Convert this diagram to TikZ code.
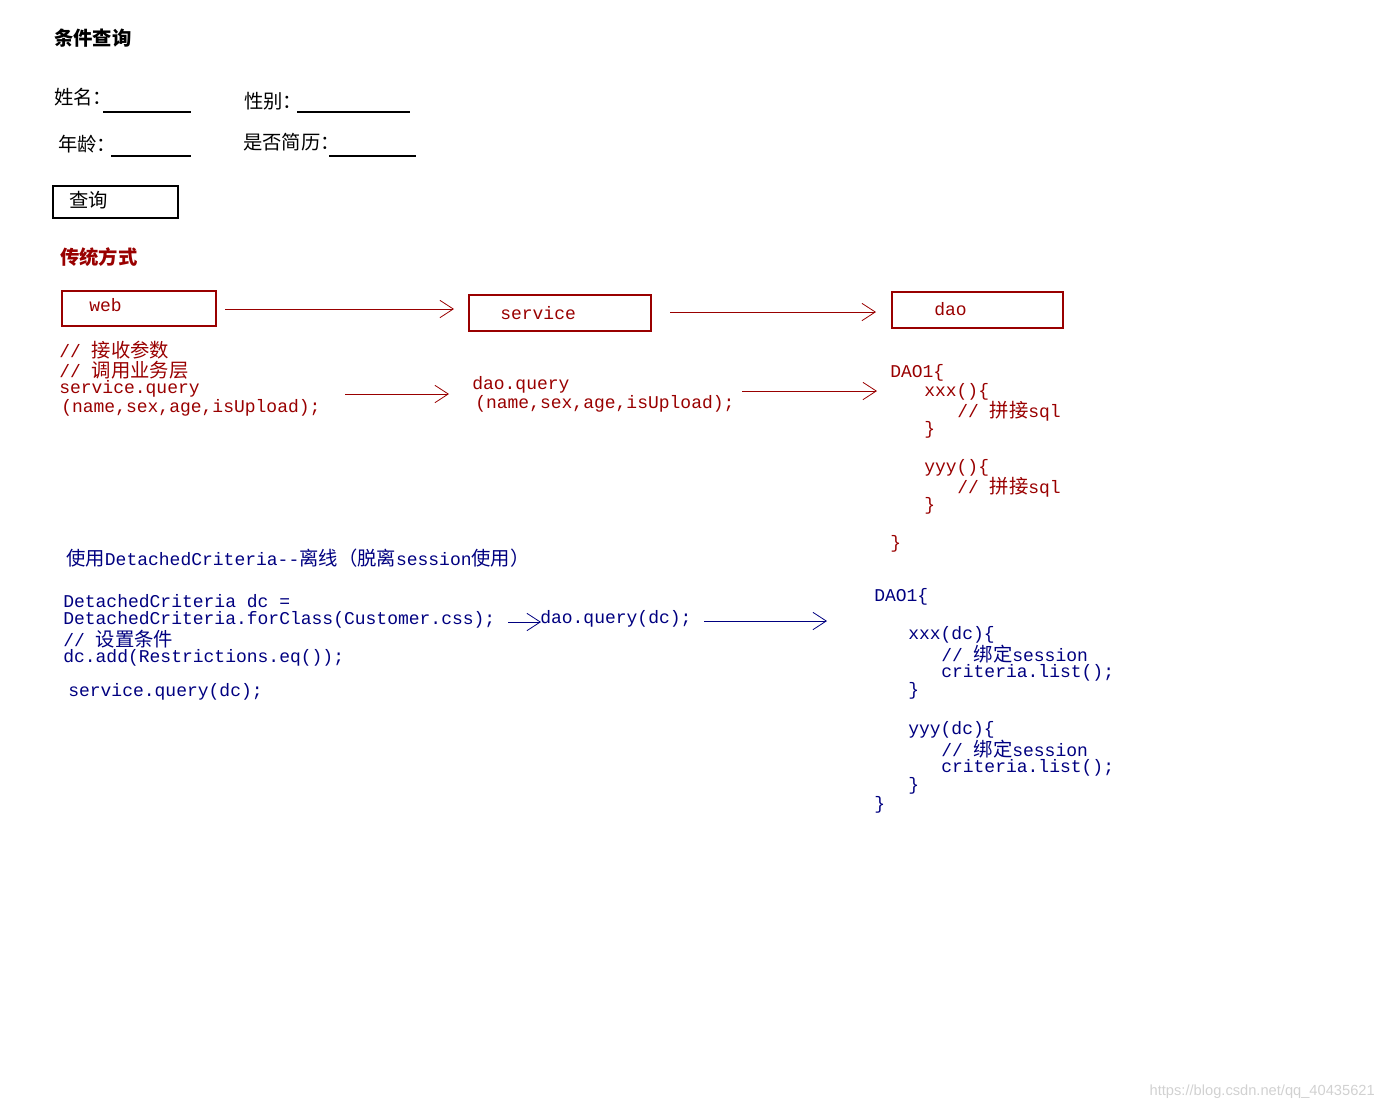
\documentclass[tikz,border=0pt]{standalone}
\usepackage{fontspec}
\setmainfont{Liberation Mono}
\newfontfamily\cjk{Noto Sans CJK SC}
\usetikzlibrary{arrows.meta}
\newcommand\cj[1]{{\cjk\fontsize{14.5}{16}\selectfont #1}}
\definecolor{dred}{HTML}{990000}
\definecolor{dblue}{HTML}{000080}
\tikzset{
 t/.style={anchor=west,inner sep=0pt,font=\fontsize{13.5}{16}\selectfont},
 box/.style={draw,line width=0.8pt,minimum height=0pt},
 arr/.style={-{Straight Barb[length=10pt,width=13pt]},line width=0.6pt},
 uline/.style={line width=0.8pt}
}
\begin{document}
\begin{tikzpicture}[x=0.75pt,y=-0.75pt]
\useasboundingbox (0,0) rectangle (1382,1111);
% form
\node[t] (title) at (54,38) {\cj{\bfseries 条件查询}};
\node[t] (l1) at (54,97) {\cj{姓名：}};
\coordinate (u1a) at (103,112); \coordinate (u1b) at (191,112);
\draw[uline] (u1a) -- (u1b);
\node[t] (l2) at (244,101) {\cj{性别：}};
\coordinate (u2a) at (297,112); \coordinate (u2b) at (410,112);
\draw[uline] (u2a) -- (u2b);
\node[t] (l3) at (58,144) {\cj{年龄：}};
\coordinate (u3a) at (111,156); \coordinate (u3b) at (191,156);
\draw[uline] (u3a) -- (u3b);
\node[t] (l4) at (243,142) {\cj{是否简历：}};
\coordinate (u4a) at (329,156); \coordinate (u4b) at (416,156);
\draw[uline] (u4a) -- (u4b);
\coordinate (qa) at (53,186); \coordinate (qb) at (178,218);
\draw[uline] (qa) rectangle (qb);
\node[t] (q) at (69,200) {\cj{查询}};
% traditional
\begin{scope}[dred,every node/.append style={text=dred}]
\node[t] (trad) at (60,257) {\cj{\bfseries 传统方式}};
\coordinate (wa) at (62,291); \coordinate (wb) at (216,326);
\draw[uline] (wa) rectangle (wb);
\node[t] (web) at (89,305) {web};
\coordinate (sa) at (469,295); \coordinate (sb) at (651,331);
\draw[uline] (sa) rectangle (sb);
\node[t] (svc) at (500,313) {service};
\coordinate (da) at (892,292); \coordinate (db) at (1063,328);
\draw[uline] (da) rectangle (db);
\node[t] (dao) at (934,309) {dao};
\coordinate (a1s) at (225,309); \coordinate (a1e) at (454,309);
\draw[arr] (a1s) -- (a1e);
\coordinate (a2s) at (670,312); \coordinate (a2e) at (876,312);
\draw[arr] (a2s) -- (a2e);
\node[t] (w1) at (59,350) {// \cj{接收参数}};
\node[t] (w2) at (59,370) {// \cj{调用业务层}};
\node[t] (w3) at (59,389) {service.query};
\node[t] (w4) at (61,408) {(name,sex,age,isUpload);};
\coordinate (a3s) at (345,394); \coordinate (a3e) at (449,394);
\draw[arr] (a3s) -- (a3e);
\node[t] (s1) at (472,385) {dao.query};
\node[t] (s2) at (475,404) {(name,sex,age,isUpload);};
\coordinate (a4s) at (742,391); \coordinate (a4e) at (877,391);
\draw[arr] (a4s) -- (a4e);
\node[t] (d1) at (890,373) {DAO1\{};
\node[t] (d2) at (924,392) {xxx()\{};
\node[t] (d3) at (957,411) {// \cj{拼接}sql};
\node[t] (d4) at (924,430) {\}};
\node[t] (d5) at (924,468) {yyy()\{};
\node[t] (d6) at (957,487) {// \cj{拼接}sql};
\node[t] (d7) at (924,506) {\}};
\node[t] (d8) at (890,544) {\}};
\end{scope}
% detached
\begin{scope}[dblue,every node/.append style={text=dblue}]
\node[t] (det) at (66,558) {\cj{使用}DetachedCriteria{-}{-}\cj{离线（脱离}session\cj{使用）}};
\node[t] (b1) at (63,601) {DetachedCriteria dc =};
\node[t] (b2) at (63,620) {DetachedCriteria.forClass(Customer.css);};
\node[t] (b3) at (63,639) {// \cj{设置条件}};
\node[t] (b4) at (63,658) {dc.add(Restrictions.eq());};
\node[t] (b5) at (68,692) {service.query(dc);};
\coordinate (a5s) at (508,622); \coordinate (a5e) at (541,622);
\node[t] (b6) at (540,619) {dao.query(dc);};
\draw[arr] (a5s) -- (a5e);
\coordinate (a6s) at (704,621); \coordinate (a6e) at (827,621);
\draw[arr] (a6s) -- (a6e);
\node[t] (e1) at (874,597) {DAO1\{};
\node[t] (e2) at (908,635) {xxx(dc)\{};
\node[t] (e3) at (941,654) {// \cj{绑定}session};
\node[t] (e4) at (941,673) {criteria.list();};
\node[t] (e5) at (908,691) {\}};
\node[t] (e6) at (908,730) {yyy(dc)\{};
\node[t] (e7) at (941,749) {// \cj{绑定}session};
\node[t] (e8) at (941,768) {criteria.list();};
\node[t] (e9) at (908,786) {\}};
\node[t] (e10) at (874,805) {\}};
\end{scope}
\node[anchor=east,inner sep=0pt,text=black!18,font=\fontsize{11}{13}\selectfont\fontspec{Liberation Sans}] (wm) at (1375,1092) {https://blog.csdn.net/qq\_40435621};
\end{tikzpicture}
\end{document}
